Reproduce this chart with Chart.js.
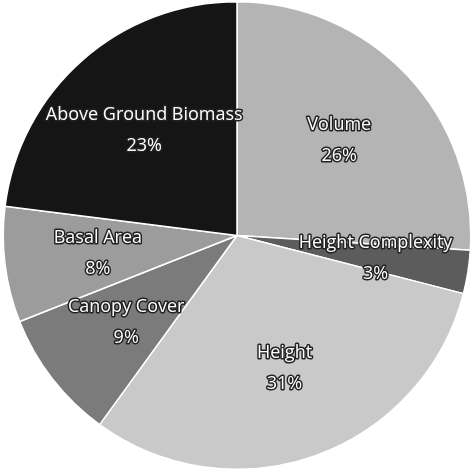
<!DOCTYPE html>
<html><head><meta charset="utf-8">
<script src="https://cdn.jsdelivr.net/npm/chart.js@4"></script>
<style>html,body{margin:0;padding:0;background:#fff}#w{width:474px;height:471px}</style>
</head><body><div id="w"><canvas id="c"></canvas></div>
<script>
const categories = ["Volume","Height Complexity","Height","Canopy Cover","Basal Area","Above Ground Biomass"];
const values = [26,3,31,9,8,23];
const colors = ["#b4b4b4","#5c5c5c","#c9c9c9","#7b7b7b","#9c9c9c","#151515"];
const labelPlugin = {
  id:'lbl',
  afterDatasetsDraw(chart){
    const ctx = chart.ctx;
    const meta = chart.getDatasetMeta(0);
    ctx.save();
    ctx.font = '18px "Open Sans", sans-serif';
    ctx.textAlign='center'; ctx.textBaseline='middle';
    ctx.lineJoin='round';
    meta.data.forEach((arc,i)=>{
      const a=(arc.startAngle+arc.endAngle)/2, r=arc.outerRadius*0.6;
      const x=arc.x+Math.cos(a)*r, y=arc.y+Math.sin(a)*r;
      [[categories[i],y-15],[values[i]+'%',y+16]].forEach(([t,yy])=>{
        ctx.lineWidth=3; ctx.strokeStyle='#222'; ctx.strokeText(t,x,yy);
        ctx.fillStyle='#fff'; ctx.fillText(t,x,yy);
      });
    });
    ctx.restore();
  }
};
new Chart(document.getElementById('c'),{
  type:'pie',
  data:{labels:categories,datasets:[{data:values,backgroundColor:colors,borderColor:'#fff',borderWidth:1.5}]},
  options:{responsive:true,maintainAspectRatio:false,animation:false,layout:{padding:1},
    plugins:{legend:{display:false},tooltip:{enabled:false}}},
  plugins:[labelPlugin]
});
</script></body></html>
